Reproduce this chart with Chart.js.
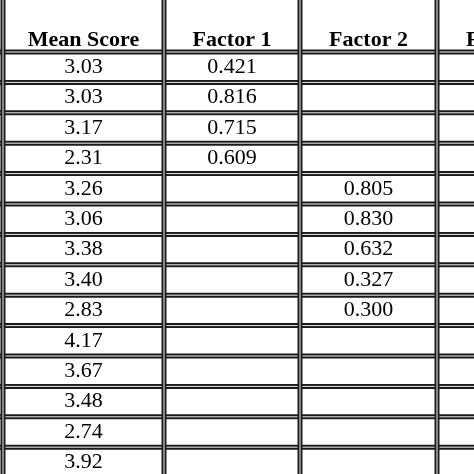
<!DOCTYPE html>
<html>
<head>
<script src="https://cdn.jsdelivr.net/npm/chart.js@4/dist/chart.umd.min.js"></script>
<style>
html, body { margin: 0; padding: 0; background: #fff; }
#wrap { width: 474px; height: 474px; }
</style>
</head>
<body>
<div id="wrap"><canvas id="tableChart"></canvas></div>
<script>
var headers = ["Mean Score", "Factor 1", "Factor 2", "Factor 3"];
var meanScore = [3.03, 3.03, 3.17, 2.31, 3.26, 3.06, 3.38, 3.40, 2.83, 4.17, 3.67, 3.48, 2.74, 3.92];
var factor1 = ["0.421", "0.816", "0.715", "0.609", "", "", "", "", "", "", "", "", "", ""];
var factor2 = ["", "", "", "", "0.805", "0.830", "0.632", "0.327", "0.300", "", "", "", "", ""];

// table grid in scale units (the scales span the page)
var colEdges = [3, 164, 300, 437, 574];
var headerBottom = 52;
var rowHeight = 30.4;

var tablePlugin = {
  id: "tablePlugin",
  afterDraw: function(chart) {
    var ctx = chart.ctx;
    var x = chart.scales.x;
    var y = chart.scales.y;
    var rows = meanScore.length;
    var top = y.getPixelForValue(-10);
    var bottom = y.getPixelForValue(480);
    ctx.save();

    function line(x1, y1, x2, y2) {
      ctx.strokeStyle = "#1a1a1a";
      ctx.lineWidth = 5;
      ctx.beginPath(); ctx.moveTo(x1, y1); ctx.lineTo(x2, y2); ctx.stroke();
      ctx.strokeStyle = "#f0f0f0";
      ctx.lineWidth = 1;
      ctx.beginPath(); ctx.moveTo(x1, y1); ctx.lineTo(x2, y2); ctx.stroke();
    }
    //horizontal lines
    for (var r = 0; r <= rows; r++) {
      var yy = y.getPixelForValue(headerBottom + r * rowHeight);
      line(x.getPixelForValue(-10), yy, x.getPixelForValue(480), yy);
    }
    //vertical lines
    for (var c = 0; c < colEdges.length; c++) {
      var xx = x.getPixelForValue(colEdges[c]);
      line(xx, top, xx, bottom);
    }

    //header text
    ctx.fillStyle = "#000";
    ctx.textAlign = "center";
    ctx.textBaseline = "alphabetic";
    ctx.font = "bold 22px 'Liberation Serif'";
    for (var h = 0; h < headers.length; h++) {
      var cx = x.getPixelForValue((colEdges[h] + colEdges[h + 1]) / 2);
      ctx.fillText(headers[h], cx, y.getPixelForValue(headerBottom - 6));
    }

    //cells
    ctx.font = "22px 'Liberation Serif'";
    ctx.textBaseline = "middle";
    var cols = [meanScore.map(function(v) { return v.toFixed(2); }), factor1, factor2];
    for (var c2 = 0; c2 < cols.length; c2++) {
      var cx2 = x.getPixelForValue((colEdges[c2] + colEdges[c2 + 1]) / 2);
      for (var r2 = 0; r2 < rows; r2++) {
        var cy = y.getPixelForValue(headerBottom + (r2 + 0.5) * rowHeight);
        if (cols[c2][r2] !== "") ctx.fillText(cols[c2][r2], cx2, cy);
      }
    }
    ctx.restore();
  }
};

new Chart(document.getElementById("tableChart"), {
  type: "scatter",
  data: { datasets: [{ data: [], pointRadius: 0 }] },
  options: {
    responsive: true,
    maintainAspectRatio: false,
    animation: false,
    layout: { padding: 0 },
    plugins: { legend: { display: false }, tooltip: { enabled: false } },
    scales: {
      x: { type: "linear", min: 0, max: 474, display: false },
      y: { type: "linear", min: 0, max: 474, reverse: true, display: false }
    }
  },
  plugins: [tablePlugin]
});
</script>
</body>
</html>
